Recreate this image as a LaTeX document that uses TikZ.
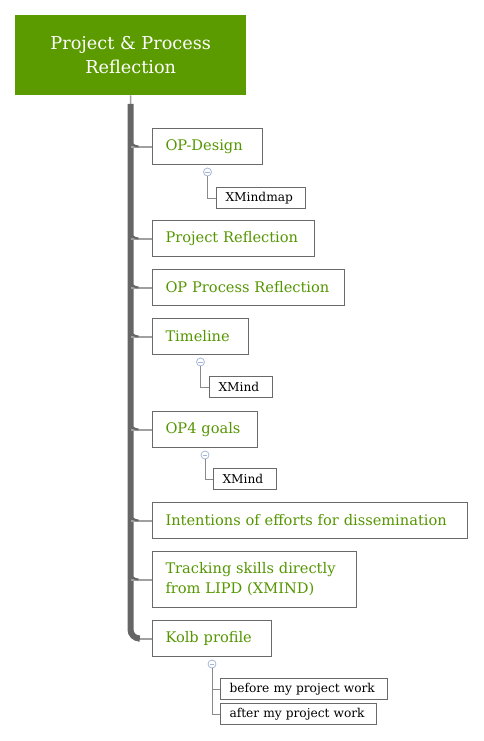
\documentclass[tikz,border=0pt]{standalone}
\usepackage{fontspec}
\setmainfont{DejaVu Serif}
\usetikzlibrary{calc}
\definecolor{rootgreen}{HTML}{5B9B00}
\definecolor{txtgreen}{HTML}{559600}
\definecolor{boxgray}{HTML}{6A6A6A}
\definecolor{trunkgray}{HTML}{666666}
\definecolor{branchgray}{HTML}{A0A0A0}
\definecolor{subgray}{HTML}{8A8A8A}
\definecolor{togblue}{HTML}{A6B6D8}
\tikzset{
  rootbox/.style={draw=none, fill=rootgreen, text=white, align=center,
    minimum width=231pt, minimum height=80pt, inner sep=0pt, anchor=north west,
    font=\fontsize{17.7}{24}\selectfont},
  childbox/.style={draw=boxgray, line width=1pt, fill=white, text=txtgreen,
    anchor=north west, inner xsep=13pt, inner ysep=0pt, align=left,
    font=\fontsize{14.6}{20}\selectfont},
  subbox/.style={draw=boxgray, line width=1pt, fill=white, text=black,
    anchor=north west, inner xsep=9pt, inner ysep=0pt, align=left,
    font=\fontsize{12.2}{14}\selectfont},
  trunkline/.style={draw=trunkgray, line width=6pt},
  thinline/.style={draw=branchgray, line width=1.5pt},
  branchline/.style={draw=branchgray, line width=2pt},
  spurline/.style={draw=trunkgray, line width=2pt},
  subline/.style={draw=subgray, line width=1pt},
  toggle/.style={circle, draw=togblue, fill=white, line width=0.8pt,
    minimum size=8pt, inner sep=0pt,
    path picture={\draw[togblue, line width=0.8pt]
      ([xshift=-2.2pt]path picture bounding box.center) --
      ([xshift=2.2pt]path picture bounding box.center);}}
}
\newcommand{\childtopic}[6]{% name, x, y, width, height, text
  \pgfmathsetlengthmacro\mytw{#4-26}%
  \node[childbox, text width=\mytw, minimum height=#5pt] (#1) at (#2,#3) {#6};}
\newcommand{\subtopic}[6]{%
  \pgfmathsetlengthmacro\mytw{#4-18}%
  \node[subbox, text width=\mytw, minimum height=#5pt] (#1) at (#2,#3) {#6};}
\begin{document}
\begin{tikzpicture}[x=1pt,y=-1pt]
\useasboundingbox (0,0) rectangle (483,741);
% root
\node[rootbox] (root) at (15,15) {Project \& Process\\Reflection};
% children
\childtopic{c1}{152}{128}{110}{36}{OP-Design}
\childtopic{c2}{152}{220}{162}{36}{Project Reflection}
\childtopic{c3}{152}{269}{192}{36}{OP Process Reflection}
\childtopic{c4}{152}{318}{96}{36}{Timeline}
\childtopic{c5}{152}{411}{105}{36}{OP4 goals}
\childtopic{c6}{152}{502}{315}{36}{Intentions of efforts for dissemination}
\childtopic{c7}{152}{551}{204}{56}{Tracking skills directly\\from LIPD (XMIND)}
\childtopic{c8}{152}{620}{119}{36}{Kolb profile}
% sub topics
\subtopic{s1}{216}{187}{89}{21}{XMindmap}
\subtopic{s2}{209}{376}{63}{21}{XMind}
\subtopic{s3}{213}{468}{63}{21}{XMind}
\subtopic{s4}{220}{678}{167}{21}{before my project work}
\subtopic{s5}{220}{703}{156}{21}{after my project work}
% trunk
\coordinate (ttop) at (130.5,104);
\draw[thinline] (root.south) -- (ttop);
\draw[branchline] ([xshift=-16pt]c8.west) -- (c8.west);
\draw[trunkline, rounded corners=9pt] (ttop) |- ([xshift=-14pt]c8.west);
% branches
\foreach \c in {c1,c2,c3,c4,c5,c6,c7}{
  \draw[branchline] (ttop |- \c.west) -- (\c.west);
  \draw[spurline] ([yshift=7pt]ttop |- \c.west) to[out=-90,in=180]
     ([xshift=8pt]ttop |- \c.west);
}
% toggles and sub connectors
\node[toggle] (t1) at ([yshift=-7pt]c1.south) {};
\node[toggle] (t4) at ([yshift=-7pt]c4.south) {};
\node[toggle] (t5) at ([yshift=-7pt]c5.south) {};
\node[toggle] (t8) at ([yshift=-7pt]c8.south) {};
\draw[subline] (t1.south) |- (s1.west);
\draw[subline] (t4.south) |- (s2.west);
\draw[subline] (t5.south) |- (s3.west);
\draw[subline] (t8.south) |- (s4.west);
\draw[subline] (t8.south) |- (s5.west);
\end{tikzpicture}
\end{document}
